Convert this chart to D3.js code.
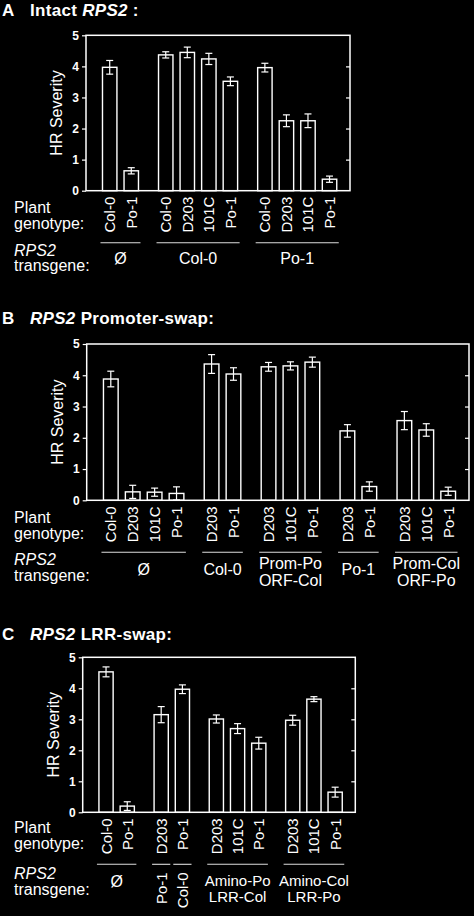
<!DOCTYPE html>
<html>
<head>
<meta charset="utf-8">
<script src="https://cdn.jsdelivr.net/npm/d3@7"></script>
<style>
  body { margin: 0; background: #000; }
  svg { display: block; }
</style>
</head>
<body>
<div id="chart"></div>
<script>
// values (HR severity, mean and error)
let genotypesA = ["Col-0", "Po-1", "Col-0", "D203", "101C", "Po-1", "Col-0", "D203", "101C", "Po-1"];
let valuesA = [3.97, 0.64, 4.37, 4.45, 4.24, 3.52, 3.96, 2.25, 2.25, 0.37];
let errorsA = [0.22, 0.10, 0.10, 0.17, 0.18, 0.14, 0.14, 0.19, 0.22, 0.10];
let clustersA = [0, 0, 1, 1, 1, 1, 2, 2, 2, 2];
let transgenesA = [
  { label: ["Ø"], from: 0, to: 1 },
  { label: ["Col-0"], from: 2, to: 5 },
  { label: ["Po-1"], from: 6, to: 9 }
];

let genotypesB = ["Col-0", "D203", "101C", "Po-1", "D203", "Po-1", "D203", "101C", "Po-1", "D203", "Po-1", "D203", "101C", "Po-1"];
let valuesB = [3.88, 0.27, 0.26, 0.22, 4.36, 4.04, 4.27, 4.30, 4.42, 2.22, 0.44, 2.55, 2.25, 0.29];
let errorsB = [0.25, 0.21, 0.13, 0.21, 0.30, 0.20, 0.14, 0.13, 0.16, 0.20, 0.15, 0.29, 0.20, 0.13];
let clustersB = [0, 0, 0, 0, 1, 1, 2, 2, 2, 3, 3, 4, 4, 4];
let transgenesB = [
  { label: ["Ø"], from: 0, to: 3 },
  { label: ["Col-0"], from: 4, to: 5 },
  { label: ["Prom-Po", "ORF-Col"], from: 6, to: 8 },
  { label: ["Po-1"], from: 9, to: 10 },
  { label: ["Prom-Col", "ORF-Po"], from: 11, to: 13 }
];

let genotypesC = ["Col-0", "Po-1", "D203", "Po-1", "D203", "101C", "Po-1", "D203", "101C", "Po-1"];
let valuesC = [4.53, 0.20, 3.15, 3.97, 3.01, 2.70, 2.23, 2.97, 3.65, 0.65];
let errorsC = [0.16, 0.14, 0.26, 0.14, 0.13, 0.16, 0.19, 0.16, 0.08, 0.16];
let clustersC = [0, 0, 1, 1, 2, 2, 2, 3, 3, 3];
let transgenesC = [
  { label: ["Ø"], from: 0, to: 1 },
  { label: ["Po-1"], from: 2, to: 2, rotate: true },
  { label: ["Col-0"], from: 3, to: 3, rotate: true },
  { label: ["Amino-Po", "LRR-Col"], from: 4, to: 6 },
  { label: ["Amino-Col", "LRR-Po"], from: 7, to: 9 }
];

let yTicks = [0, 1, 2, 3, 4, 5];

const font = "'Liberation Sans', Arial, Helvetica, sans-serif";
const width = 474;
const height = 916;
const clusterGap = 0.6;

let panels = [
  {
    letter: "A", title: [["Intact ", "normal"], ["RPS2", "italic"], [" :", "normal"]], titleY: 16,
    genotypes: genotypesA, values: valuesA, errors: errorsA, clusters: clustersA, transgenes: transgenesA,
    frame: { left: 86, right: 350, top: 35.3, bottom: 190.7 },
    leftLabels: [22.5, 38.5, 64.8, 80.5], tg: { single: 73.5, first: 68.5, gap: 17, size: 16 }
  },
  {
    letter: "B", title: [["RPS2", "italic"], [" Promoter-swap:", "normal"]], titleY: 323.5,
    genotypes: genotypesB, values: valuesB, errors: errorsB, clusters: clustersB, transgenes: transgenesB,
    frame: { left: 86.7, right: 469, top: 344, bottom: 500.3 },
    leftLabels: [22.4, 38.7, 64.7, 80.7], tg: { single: 74.7, first: 68.8, gap: 17, size: 16 }
  },
  {
    letter: "C", title: [["RPS2", "italic"], [" LRR-swap:", "normal"]], titleY: 639.5,
    genotypes: genotypesC, values: valuesC, errors: errorsC, clusters: clustersC, transgenes: transgenesC,
    frame: { left: 82.7, right: 355.3, top: 657.3, bottom: 812.3 },
    leftLabels: [20.8, 37, 66.8, 82.8], tg: { single: 74.7, first: 73.2, gap: 16.2, size: 15 }
  }
];

const svg = d3.select("#chart").append("svg")
  .attr("width", width)
  .attr("height", height)
  .style("background", "#000")
  .style("font-family", font);

function drawPanel(p) {
  const f = p.frame;
  const pos = p.genotypes.map((d, i) => i + clusterGap * p.clusters[i]);
  const maxPos = d3.max(pos);

  const x = d3.scaleLinear()
    .domain([-1.1, maxPos + 0.95])
    .range([f.left, f.right]);
  const pitch = x(1) - x(0);
  const barW = pitch * 0.67;

  const y = d3.scaleLinear().domain([0, 5]).range([f.bottom, f.top]);

  const g = svg.append("g");

  // title
  g.append("text")
    .attr("x", 2).attr("y", p.titleY)
    .attr("fill", "#fff")
    .style("font-size", "17px").style("font-weight", "bold")
    .text(p.letter);
  const t = g.append("text")
    .attr("x", 30).attr("y", p.titleY)
    .attr("fill", "#fff")
    .style("font-size", "17px").style("font-weight", "bold")
    .style("letter-spacing", "0.3px");
  p.title.forEach(part => t.append("tspan").style("font-style", part[1]).text(part[0]));

  // bars
  g.selectAll("rect.bar")
    .data(p.values)
    .enter()
    .append("rect")
    .attr("class", "bar")
    .attr("x", (d, i) => x(pos[i]) - barW / 2)
    .attr("y", d => y(d))
    .attr("width", barW)
    .attr("height", d => y(0) - y(d))
    .attr("fill", "#000")
    .attr("stroke", "#fff")
    .attr("stroke-width", 1.4);

  // error bars
  const eb = g.selectAll("g.err")
    .data(p.values)
    .enter()
    .append("g")
    .attr("class", "err")
    .attr("stroke", "#fff")
    .attr("stroke-width", 1.2);
  eb.append("line")
    .attr("x1", (d, i) => x(pos[i])).attr("x2", (d, i) => x(pos[i]))
    .attr("y1", (d, i) => y(d + p.errors[i])).attr("y2", (d, i) => y(d - p.errors[i]));
  eb.append("line")
    .attr("x1", (d, i) => x(pos[i]) - 3.5).attr("x2", (d, i) => x(pos[i]) + 3.5)
    .attr("y1", (d, i) => y(d + p.errors[i])).attr("y2", (d, i) => y(d + p.errors[i]));
  eb.append("line")
    .attr("x1", (d, i) => x(pos[i]) - 3.5).attr("x2", (d, i) => x(pos[i]) + 3.5)
    .attr("y1", (d, i) => y(d - p.errors[i])).attr("y2", (d, i) => y(d - p.errors[i]));

  // frame
  g.append("rect")
    .attr("x", f.left).attr("y", f.top)
    .attr("width", f.right - f.left).attr("height", f.bottom - f.top)
    .attr("fill", "none").attr("stroke", "#fff").attr("stroke-width", 1.5);

  // axes
  const axisL = g.append("g")
    .attr("transform", `translate(${f.left},0)`)
    .call(d3.axisLeft(y).tickValues(yTicks).tickSize(4).tickPadding(3).tickFormat(d3.format("d")));
  axisL.select(".domain").remove();
  axisL.selectAll("line").attr("stroke", "#fff").attr("stroke-width", 1.2);
  axisL.selectAll("text")
    .attr("fill", "#fff")
    .style("font-family", font).style("font-size", "12px").style("font-weight", "bold");

  const axisR = g.append("g")
    .attr("transform", `translate(${f.right},0)`)
    .call(d3.axisRight(y).tickValues(yTicks.slice(1, -1)).tickSize(-4).tickFormat(""));
  axisR.select(".domain").remove();
  axisR.selectAll("line").attr("stroke", "#fff").attr("stroke-width", 1.2);

  g.append("text")
    .attr("transform", `translate(${f.left - 24},${(f.top + f.bottom) / 2}) rotate(-90)`)
    .attr("text-anchor", "middle")
    .attr("fill", "#fff")
    .style("font-size", "16px")
    .text("HR Severity");

  // genotype labels
  g.selectAll("text.geno")
    .data(p.genotypes)
    .enter()
    .append("text")
    .attr("class", "geno")
    .attr("transform", (d, i) => `translate(${x(pos[i])},${f.bottom + 6}) rotate(-90)`)
    .attr("text-anchor", "end")
    .attr("dominant-baseline", "central")
    .attr("fill", "#fff")
    .style("font-size", "15px")
    .text(d => d);

  // left row labels
  const rows = [["Plant", "normal"], ["genotype:", "normal"], ["RPS2", "italic"], ["transgene:", "normal"]];
  rows.forEach((r, k) => {
    g.append("text")
      .attr("x", 14).attr("y", f.bottom + p.leftLabels[k])
      .attr("fill", "#fff")
      .style("font-size", "16px").style("font-style", r[1])
      .text(r[0]);
  });

  // transgene groups
  const lineY = f.bottom + 52;
  p.transgenes.forEach(tg => {
    const x0 = x(pos[tg.from]) - barW / 2 - 2;
    const x1 = x(pos[tg.to]) + barW / 2 + 2;
    const cx = (x(pos[tg.from]) + x(pos[tg.to])) / 2;
    g.append("line")
      .attr("x1", x0).attr("x2", x1)
      .attr("y1", lineY).attr("y2", lineY)
      .attr("stroke", "#ddd").attr("stroke-width", 1.1);
    if (tg.rotate) {
      g.append("text")
        .attr("transform", `translate(${cx},${lineY + 8}) rotate(-90)`)
        .attr("text-anchor", "end")
        .attr("dominant-baseline", "central")
        .attr("fill", "#fff")
        .style("font-size", "15px")
        .text(tg.label[0]);
    } else if (tg.label.length === 1) {
      g.append("text")
        .attr("x", cx).attr("y", f.bottom + p.tg.single)
        .attr("text-anchor", "middle")
        .attr("fill", "#fff")
        .style("font-size", "16px")
        .text(tg.label[0]);
    } else {
      tg.label.forEach((l, k) => {
        g.append("text")
          .attr("x", cx).attr("y", f.bottom + p.tg.first + k * p.tg.gap)
          .attr("text-anchor", "middle")
          .attr("fill", "#fff")
          .style("font-size", p.tg.size + "px")
          .text(l);
      });
    }
  });
}

panels.forEach(drawPanel);
</script>
</body>
</html>
